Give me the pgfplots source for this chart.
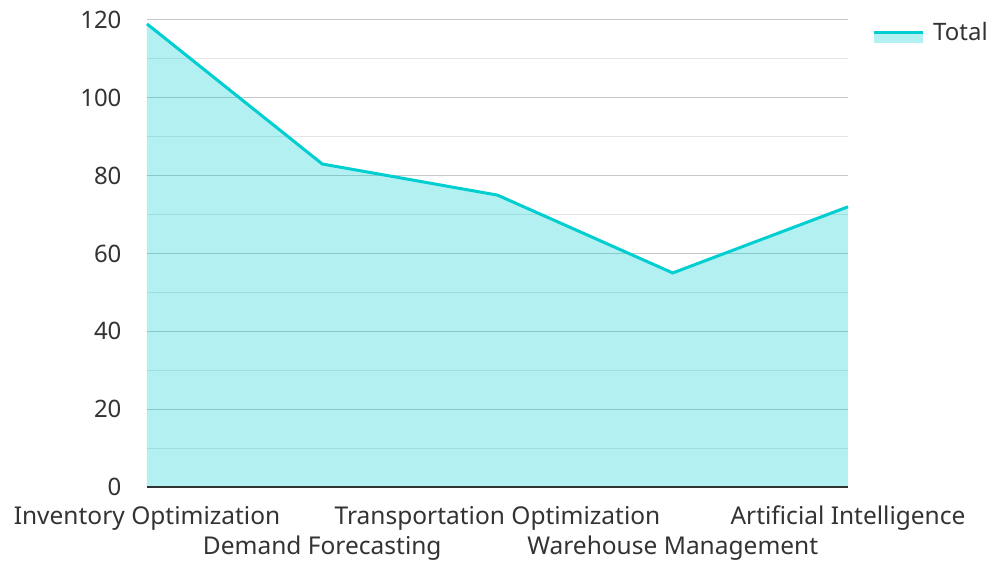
\documentclass[border=0pt]{standalone}
\usepackage{pgfplots}
\pgfplotsset{compat=1.18}
\usepackage{fontspec}
\setmainfont{Noto Sans}
\definecolor{lc}{HTML}{00CED1}
\definecolor{tc}{HTML}{333333}
\begin{document}
\begin{tikzpicture}
\path[use as bounding box] (-147pt,-75pt) rectangle (842pt,487pt);
\begin{axis}[
  scale only axis, width=701pt, height=467pt,
  xmin=0, xmax=4, ymin=0, ymax=120,
  xtick={0,1,2,3,4},
  xticklabels={Inventory Optimization,{\mbox{}\\[16pt]Demand Forecasting},Transportation Optimization,{\mbox{}\\[16pt]Warehouse Management},Artificial Intelligence},
  xticklabel style={align=center, font=\fontsize{24.5}{32}\selectfont, text=tc, inner sep=0pt, yshift=-19pt},
  ytick={0,20,...,120}, minor ytick={10,30,...,110},
  yticklabel style={font=\fontsize{24}{28}\selectfont, text=tc, xshift=-22pt},
  /pgf/number format/assume math mode=true,
  major tick length=0pt, minor tick length=0pt,
  ymajorgrids, yminorgrids,
  major grid style={draw=black!22, line width=1pt},
  minor grid style={draw=black!10, line width=1pt},
  axis line style={draw=none},
  axis x line*=bottom, axis y line*=left,
  legend style={at={(1,1)}, anchor=north west, draw=none, fill=none, font=\fontsize{24}{28}\selectfont, text=tc, xshift=24pt, yshift=0pt, inner sep=0pt, column sep=7pt},
  clip=false,
]
\addplot[draw=none, fill=lc, fill opacity=0.3, forget plot] coordinates {(0,119) (1,83) (2,75) (3,55) (4,72)} \closedcycle;
\addplot[draw=lc, line width=3pt, legend image code/.code={
    \fill[fill=lc, fill opacity=0.3, draw=none] (0pt,-11pt) rectangle (49pt,0pt);
    \draw[draw=lc, line width=3pt] (0pt,0pt) -- (49pt,0pt);
  }] coordinates {(0,119) (1,83) (2,75) (3,55) (4,72)};
\addlegendentry{Total}
\draw[black!80, line width=1.2pt] (axis cs:0,0) -- (axis cs:4,0);
\end{axis}
\end{tikzpicture}
\end{document}
